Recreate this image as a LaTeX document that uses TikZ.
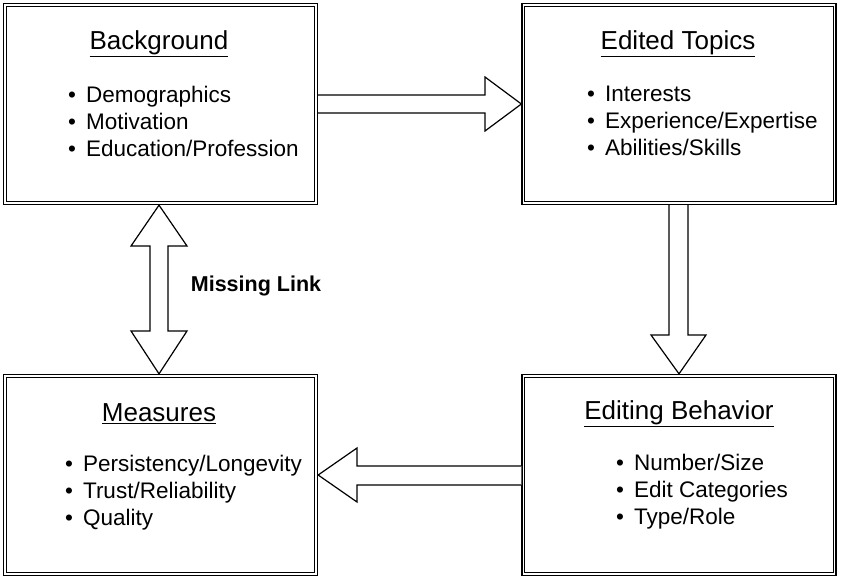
\documentclass[tikz,border=0pt]{standalone}
\usepackage{fontspec}
\setmainfont{Liberation Sans}
\usetikzlibrary{calc}
\newcommand{\bul}{\textbullet\hspace{10pt}}
\begin{document}
\begin{tikzpicture}[x=1pt,y=-1pt,
  box/.style={draw, line width=1.3pt, minimum width=314pt, minimum height=201pt, inner sep=0pt,
     append after command={\pgfextra{\draw[line width=1.1pt] ($(\tikzlastnode.north west)+(3.5,3.5)$) rectangle ($(\tikzlastnode.south east)+(-3.5,-3.5)$);}}},
  ttl/.style={font=\fontsize{26}{30}\selectfont},
  lst/.style={font=\fontsize{22.5}{27}\selectfont, align=left, inner sep=0pt},
  arr/.style={draw, line width=1.2pt, fill=white, line join=miter}]
\useasboundingbox (0,0) rectangle (842,581);
\node[box] (bg) at (160.5,104) {};
\node[box] (et) at (679,104) {};
\node[box] (me) at (160.5,475) {};
\node[box] (eb) at (679,475) {};
\node[ttl] (bgt) at (159,44) {\underline{Background}};
\node[ttl] (ett) at (678,44) {\underline{Edited Topics}};
\node[ttl] (met) at (159,414) {\underline{Measures}};
\node[ttl] (ebt) at (679,414) {\underline{Editing Behavior}};
\node[lst, anchor=west] (bgl) at (68,121) {\bul Demographics\\\bul Motivation\\\bul Education/Profession};
\node[lst, anchor=west] (etl) at (587,121) {\bul Interests\\\bul Experience/Expertise\\\bul Abilities/Skills};
\node[lst, anchor=west] (mel) at (65,493) {\bul Persistency/Longevity\\\bul Trust/Reliability\\\bul Quality};
\node[lst, anchor=west] (ebl) at (616,492) {\bul Number/Size\\\bul Edit Categories\\\bul Type/Role};
\node[font=\bfseries\fontsize{21.5}{24}\selectfont] (ml) at (256,286) {Missing Link};
% right arrow bg -> et
\draw[arr] (bg.east|-0,95) -- (485,95) -- (485,77) -- (et.west|-0,104) -- (485,131) -- (485,113) -- (bg.east|-0,113);
% down arrow et -> eb
\draw[arr] (669,0|-et.south) -- (669,335) -- (651,335) -- (679,0|-eb.north) -- (706,335) -- (688,335) -- (688,0|-et.south);
% left arrow eb -> me
\draw[arr] (eb.west|-0,466) -- (357,466) -- (357,448) -- (me.east|-0,475) -- (357,502) -- (357,485) -- (eb.west|-0,485);
% double arrow bg <-> me
\draw[arr] (159,0|-bg.south) -- (187,246) -- (168,246) -- (168,331) -- (187,331) -- (159,0|-me.north) -- (131,331) -- (150,331) -- (150,246) -- (131,246) -- cycle;
\end{tikzpicture}
\end{document}
